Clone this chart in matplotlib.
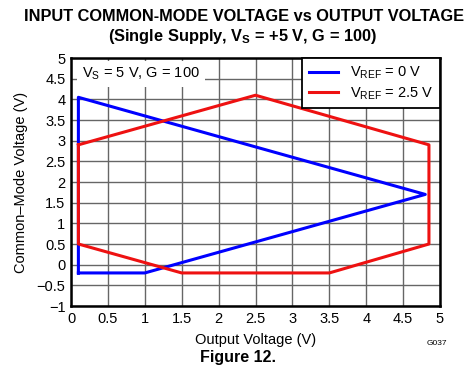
import matplotlib
matplotlib.use("Agg")
import matplotlib.pyplot as plt

plt.rcParams['font.family'] = ['Liberation Sans', 'DejaVu Sans']
plt.rcParams['mathtext.fontset'] = 'custom'
plt.rcParams['mathtext.rm'] = 'Liberation Sans'
plt.rcParams['mathtext.bf'] = 'Liberation Sans:bold'

# Data
blue_x = [0.1, 0.1, 4.8, 1.0, 0.1]
blue_y = [-0.2, 4.05, 1.7, -0.2, -0.2]
red_x = [0.1, 2.5, 4.85, 4.85, 3.5, 1.5, 0.1, 0.1]
red_y = [2.9, 4.1, 2.9, 0.5, -0.2, -0.2, 0.5, 2.9]
labels = ['V$_\\mathrm{REF}$ = 0 V', 'V$_\\mathrm{REF}$ = 2.5 V']
xticks = [0, 0.5, 1, 1.5, 2, 2.5, 3, 3.5, 4, 4.5, 5]
yticks = [-1, -0.5, 0, 0.5, 1, 1.5, 2, 2.5, 3, 3.5, 4, 4.5, 5]

fig = plt.figure(figsize=(4.74, 3.87), dpi=100)
ax = fig.add_axes([0.1498, 0.2093, 0.7785, 0.6407])

ax.plot(blue_x, blue_y, color='#0000FF', lw=2.2, label=labels[0], zorder=3)
ax.plot(red_x, red_y, color='#EE1111', lw=2.2, label=labels[1], zorder=3)

ax.set_xlim(0, 5)
ax.set_ylim(-1, 5)
ax.set_xticks(xticks)
ax.set_yticks(yticks)
ax.set_xticklabels([f"{t:g}" for t in xticks])
ax.set_yticklabels([f"{t:g}".replace('-', '\u2212') for t in yticks])
ax.tick_params(length=0, labelsize=10.5, pad=4)
ax.grid(True, color='#666666', lw=1.0)
ax.set_axisbelow(True)
for s in ax.spines.values():
    s.set_linewidth(1.8)
    s.set_color('black')

ax.set_xlabel('Output Voltage (V)', fontsize=10.5, labelpad=5)
ax.set_ylabel('Common\u2013Mode Voltage (V)', fontsize=10.5, labelpad=6)

leg = ax.legend(loc='upper right', fontsize=10.5, frameon=True, fancybox=False,
                edgecolor='black', framealpha=1, borderaxespad=0, handlelength=2.0,
                labelspacing=0.25, borderpad=0.45, handletextpad=0.8)
leg.get_frame().set_linewidth(1.3)

ax.text(0.15, 4.62, 'V$_\\mathrm{S}$ = 5 V, G = 100', fontsize=10.5, va='center', ha='left',
        bbox=dict(facecolor='white', edgecolor='none', pad=3.5), zorder=4)

fig.text(0.515, 0.958, 'INPUT COMMON-MODE VOLTAGE vs OUTPUT VOLTAGE', ha='center',
         va='center', fontsize=11.8, fontweight='bold')
fig.text(0.511, 0.905, '(Single Supply, V$_\\mathbf{S}$ = +5 V, G = 100)', ha='center',
         va='center', fontsize=11.8, fontweight='bold')
fig.text(0.502, 0.077, 'Figure 12.', ha='center', va='center', fontsize=11.5, fontweight='bold')
fig.text(0.922, 0.112, 'G037', ha='center', va='center', fontsize=6)

fig.savefig('out.png', dpi=100)
